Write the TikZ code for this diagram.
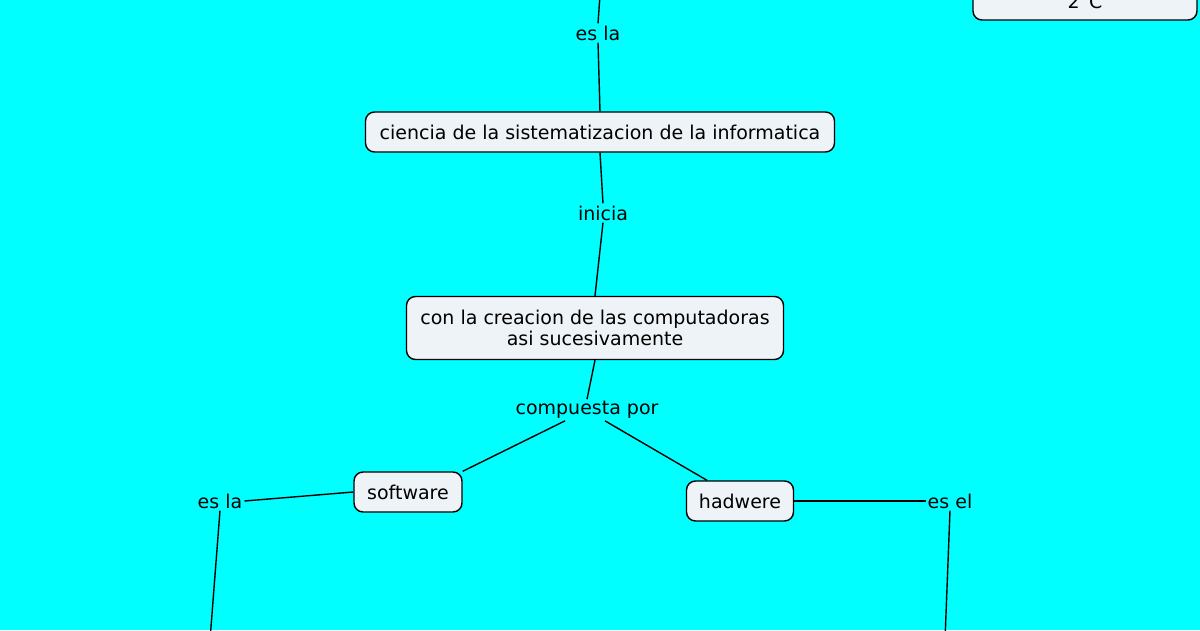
\documentclass[tikz,border=0pt]{standalone}
\usepackage{fontspec}
\setmainfont{DejaVu Sans}
\definecolor{bg}{RGB}{0,255,255}
\definecolor{nodefill}{RGB}{238,243,247}
\begin{document}
\begin{tikzpicture}[x=1pt,y=-1pt,
  concept/.style={draw=black,line width=1.4pt,rounded corners=9pt,fill=nodefill,align=center,font=\fontsize{19}{21}\selectfont,inner sep=0pt},
  lbl/.style={font=\fontsize{19}{21}\selectfont,inner sep=2pt},
  ln/.style={draw=black,line width=1.4pt}]
\fill[bg] (0,0) rectangle (1200,630);
\useasboundingbox (0,0) rectangle (1200,630);
\begin{scope}
\clip (0,0) rectangle (1200,630);
\node[concept,minimum width=224pt,minimum height=50pt] (top) at (1085,-5) {\\[6pt]2°C};
\node[concept,minimum width=469pt,minimum height=40pt] (cien) at (600,132) {ciencia de la sistematizacion de la informatica};
\node[concept,minimum width=377pt,minimum height=63pt] (con) at (595,328) {con la creacion de las computadoras\\asi sucesivamente};
\node[concept,minimum width=108pt,minimum height=40pt] (soft) at (408,492) {software};
\node[concept,minimum width=107pt,minimum height=40pt] (hard) at (740,501) {hadwere};
\node[lbl] (l1) at (598,33) {es la};
\node[lbl] (l2) at (603,213) {inicia};
\node[lbl] (l3) at (587,410) {compuesta por};
\node[lbl] (l4) at (220,501) {es la};
\node[lbl] (l5) at (950,501) {es el};
\coordinate (t0) at (600,-5);
\coordinate (b1) at (210,640);
\coordinate (b2) at (945,640);
\draw[ln] (t0) -- (l1.north);
\draw[ln] (l1.south) -- (cien.north);
\draw[ln] (cien.south) -- (l2.north);
\draw[ln] (l2.south) -- (con.north);
\draw[ln] (con.south) -- (l3.north);
\draw[ln] ([xshift=-22pt]l3.south) -- (soft.north east);
\draw[ln] ([xshift=18pt]l3.south) -- ([xshift=-33pt]hard.north);
\draw[ln] (soft.west) -- (l4.east);
\draw[ln] (l4.south) -- (b1);
\draw[ln] (hard.east) -- (l5.west);
\draw[ln] (l5.south) -- (b2);
\end{scope}
\end{tikzpicture}
\end{document}
